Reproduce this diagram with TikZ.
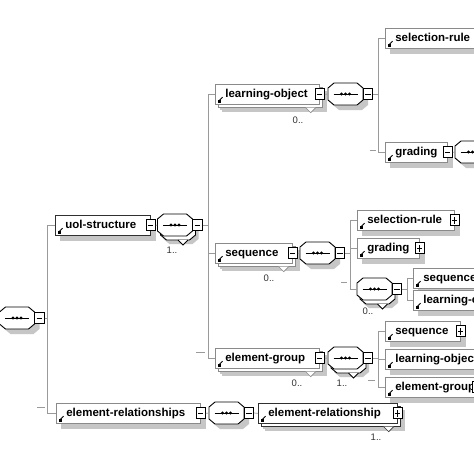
\documentclass[tikz,border=0pt]{standalone}
\usepackage{fontspec}
\setmainfont{Liberation Sans}
\pgfdeclarelayer{bg}
\pgfdeclarelayer{shadow}
\pgfdeclarelayer{stack}
\pgfsetlayers{bg,shadow,stack,main}
\definecolor{shadowc}{HTML}{C6C6C6}
\definecolor{linec}{HTML}{9A9A9A}
\definecolor{optc}{HTML}{8A8A8A}
\definecolor{reqc}{HTML}{303030}
\newcommand\elfont{\fontsize{11.5}{13}\selectfont\bfseries}
\newcommand\eltext[2]{\makebox[#1pt][l]{\hspace{10pt}#2}}
% element box: name, x, y, width, text, border colour
\newcommand\elem[6]{%
  \node[elem, draw=#6] (#1) at (#2,#3) {\eltext{#4}{#5}};
  \fill[black] ([shift={(2.5pt,2pt)}]#1.south west) rectangle ++(3pt,3pt);
  \draw[black, line width=0.9pt] ([shift={(4pt,4pt)}]#1.south west) -- ++(3.5pt,3.5pt);
  \begin{pgfonlayer}{shadow}\fill[shadowc] ([shift={(5pt,-5pt)}]#1.north west) rectangle ([shift={(5pt,-5pt)}]#1.south east);\end{pgfonlayer}%
}
% stacked copy behind a box: node, colour
\newcommand\stk[2]{%
  \begin{pgfonlayer}{stack}
    \filldraw[fill=white, draw=#2, line width=0.7pt] ([shift={(3pt,-3pt)}]#1.north west) rectangle ([shift={(3pt,-3pt)}]#1.south east);
    \fill[white] ([shift={(-14pt,-3pt)}]#1.south east) -- ++(10pt,0pt) -- ++(-5pt,-5pt) -- cycle;
    \draw[#2, line width=0.7pt] ([shift={(-14pt,-3pt)}]#1.south east) -- ++(5pt,-5pt) -- ++(5pt,5pt);
  \end{pgfonlayer}
  \begin{pgfonlayer}{shadow}\fill[shadowc] ([shift={(7pt,-7pt)}]#1.north west) rectangle ([shift={(7pt,-7pt)}]#1.south east);\end{pgfonlayer}%
}
\newcommand\octat[3]{\draw[#3] ({#1-11.5},{#2-11}) -- ++(23,0) -- ++(6,5) -- ++(0,12) -- ++(-6,5) -- ++(-23,0) -- ++(-6,-5) -- ++(0,-12) -- cycle;}
% compositor: name, cx, cy
\newcommand\compo[3]{%
  \begin{pgfonlayer}{shadow}\octat{#2+5}{#3+5}{fill=shadowc,draw=none}\end{pgfonlayer}
  \octat{#2}{#3}{fill=white,draw=black,line width=0.9pt}
  \node[compo] (#1) at (#2,#3) {};
  \draw[line width=1pt] ([xshift=-12pt]#1.center) -- ([xshift=12pt]#1.center);
  \foreach \d in {-4,0,4} {\fill ([xshift=\d pt]#1.center) circle (1.7pt);}
  \node[btn,btnminus] (#1b) at ([xshift=4.75pt]#1.east) {};
}
% stacked compositor copy: cx, cy
\newcommand\compostk[2]{%
  \begin{pgfonlayer}{stack}
    \octat{#1+3}{#2+4}{fill=white,draw=black,line width=0.9pt}
    \fill[white] ({#1+3},{#2+15}) -- ++(10,0) -- ++(-5,5) -- cycle;
    \draw[black,line width=0.9pt] ({#1+3},{#2+15}) -- ++(5,5) -- ++(5,-5);
  \end{pgfonlayer}
  \begin{pgfonlayer}{shadow}\octat{#1+6}{#2+8}{fill=shadowc,draw=none}\end{pgfonlayer}%
}
\begin{document}
\begin{tikzpicture}[x=1pt,y=-1pt,
  elem/.style={rectangle, anchor=north west, inner sep=0pt, minimum height=20pt,
    text height=9pt, text depth=2pt, fill=white, line width=0.7pt, font=\elfont},
  compo/.style={rectangle, minimum width=35pt, minimum height=22pt, inner sep=0pt},
  btn/.style={draw=black, line width=0.9pt, fill=white, minimum width=9.5pt,
    minimum height=11pt, inner sep=0pt},
  btnminus/.style={path picture={\draw[line width=0.9pt]
    ([xshift=2pt]path picture bounding box.west) -- ([xshift=-2pt]path picture bounding box.east);}},
  btnplus/.style={path picture={\draw[line width=0.9pt]
    ([xshift=2pt]path picture bounding box.west) -- ([xshift=-2pt]path picture bounding box.east)
    ([yshift=2pt]path picture bounding box.south) -- ([yshift=-2pt]path picture bounding box.north);}},
  conn/.style={draw=linec, line width=0.7pt},
  lbl/.style={font=\fontsize{9.5}{11}\selectfont, text=black!80, inner sep=0pt}]
\useasboundingbox (0,0) rectangle (474,474);
\begin{pgfonlayer}{bg}\fill[white] (0,0) rectangle (474,474);\end{pgfonlayer}

% trunk positions
\coordinate (t0) at (47,0);
\coordinate (t1) at (208,0);
\coordinate (t2) at (378,0);
\coordinate (t3) at (350,0);
\coordinate (t4) at (407,0);
\coordinate (t5) at (378,0);

% compositors
\compo{root}{17}{318}
\compostk{175}{225}
\compo{c1}{175}{225}
\compo{c2}{345.5}{94}
\compo{c3}{317.5}{253}
\compostk{374.5}{289}
\compo{c4}{374.5}{289}
\compostk{345.5}{358}
\compo{c5}{345.5}{358}
\compo{c6}{226.5}{413}
\compo{c7}{472.5}{152}

% elements
\elem{uol}{55}{215}{95}{uol-structure}{reqc}
\node[btn,btnminus] (uolb) at (uol.east) {};
\elem{lo}{215}{84}{104}{learning-object}{optc}
\stk{lo}{optc}
\node[btn,btnminus] (lob) at (lo.east) {};
\elem{sq}{215}{243}{77}{sequence}{optc}
\stk{sq}{optc}
\node[btn,btnminus] (sqb) at (sq.east) {};
\elem{eg}{215}{348}{104}{element-group}{optc}
\stk{eg}{optc}
\node[btn,btnminus] (egb) at (eg.east) {};
\elem{ers}{56}{403}{144}{element-relationships}{optc}
\node[btn,btnminus] (ersb) at (ers.east) {};
\elem{er}{258}{403}{139}{element-relationship}{reqc}
\stk{er}{reqc}
\node[btn,btnplus] (erb) at (er.east) {};
\elem{sra}{385}{28}{130}{selection-rule}{optc}
\elem{gra}{385}{142}{62}{grading}{optc}
\node[btn,btnminus] (grab) at (gra.east) {};
\elem{srb}{357}{210}{97}{selection-rule}{optc}
\node[btn,btnplus] (srbb) at (srb.east) {};
\elem{grb}{357}{238}{62}{grading}{optc}
\node[btn,btnplus] (grbb) at (grb.east) {};
\elem{sqc}{413}{268}{90}{sequence}{optc}
\elem{loc}{413}{290}{110}{learning-object}{optc}
\elem{sqd}{385}{321}{75}{sequence}{optc}
\node[btn,btnplus] (sqdb) at (sqd.east) {};
\elem{lod}{385}{349}{110}{learning-object}{optc}
\elem{egd}{385}{377}{91}{element-group}{optc}
\node[btn,btnminus] (egdb) at (egd.east) {};

% connectors
\draw[conn] (rootb.east) -- (rootb.east -| t0);
\draw[conn] (t0 |- uol.west) -- (t0 |- ers.west);
\draw[conn] (t0 |- uol.west) -- (uol.west);
\draw[conn] (t0 |- ers.west) -- (ers.west);

\draw[conn] (uolb.east) -- (c1.west);
\draw[conn] (c1b.east) -- (c1b.east -| t1);
\draw[conn] (t1 |- lo.west) -- (t1 |- eg.west);
\draw[conn] (t1 |- lo.west) -- (lo.west);
\draw[conn] (t1 |- sq.west) -- (sq.west);
\draw[conn] (t1 |- eg.west) -- (eg.west);

\draw[conn] (lob.east) -- (c2.west);
\draw[conn] (c2b.east) -- (c2b.east -| t2);
\draw[conn] (t2 |- sra.west) -- (t2 |- gra.west);
\draw[conn] (t2 |- sra.west) -- (sra.west);
\draw[conn] (t2 |- gra.west) -- (gra.west);
\draw[conn] (grab.east) -- (c7.west);

\draw[conn] (sqb.east) -- (c3.west);
\draw[conn] (c3b.east) -- (c3b.east -| t3);
\draw[conn] (t3 |- srb.west) -- (t3 |- c4.west);
\draw[conn] (t3 |- srb.west) -- (srb.west);
\draw[conn] (t3 |- grb.west) -- (grb.west);
\draw[conn] (t3 |- c4.west) -- (c4.west);

\draw[conn] (c4b.east) -- (c4b.east -| t4);
\draw[conn] (t4 |- sqc.west) -- (t4 |- loc.west);
\draw[conn] (t4 |- sqc.west) -- (sqc.west);
\draw[conn] (t4 |- loc.west) -- (loc.west);

\draw[conn] (egb.east) -- (c5.west);
\draw[conn] (c5b.east) -- (c5b.east -| t5);
\draw[conn] (t5 |- sqd.west) -- (t5 |- egd.west);
\draw[conn] (t5 |- sqd.west) -- (sqd.west);
\draw[conn] (t5 |- lod.west) -- (lod.west);
\draw[conn] (t5 |- egd.west) -- (egd.west);

\draw[conn] (ersb.east) -- (c6.west);
\draw[conn] (c6b.east) -- (er.west);

% short stubs
\draw[conn] (37,407) -- (45,407);
\draw[conn] (196,352) -- (205,352);
\draw[conn] (341,282) -- (347,282);
\draw[conn] (368,380) -- (375,380);
\draw[conn] (370,150) -- (376,150);

% multiplicity labels
\node[lbl] (m1) at (172,250) {1..};
\node[lbl] (m2) at (298,120) {0..};
\node[lbl] (m3) at (269,278) {0..};
\node[lbl] (m4) at (368,311) {0..};
\node[lbl] (m5) at (297,383) {0..};
\node[lbl] (m6) at (342,383) {1..};
\node[lbl] (m7) at (376,437) {1..};
\end{tikzpicture}
\end{document}
